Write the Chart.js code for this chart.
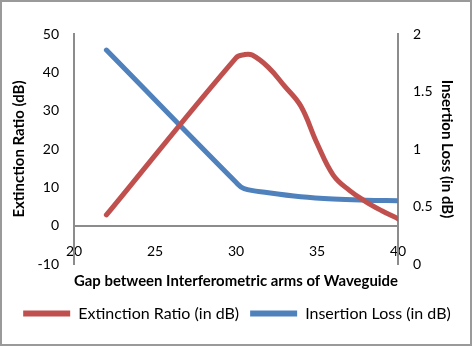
<!DOCTYPE html>
<html>
<head>
<meta charset="utf-8">
<script src="https://cdn.jsdelivr.net/npm/chart.js@4/dist/chart.umd.min.js"></script>
<style>
  html, body { margin: 0; padding: 0; background: #fff; }
  #wrap { position: relative; width: 474px; height: 348px; }
  #frame { position: absolute; left: 0; top: 0; width: 472px; height: 346px; box-sizing: border-box; border: 2px solid #9a9a9a; pointer-events: none; }
</style>
</head>
<body>
<div id="wrap">
  <canvas id="c" width="474" height="348"></canvas>
  <div id="frame"></div>
</div>
<script>
// Data
const gapER = [22, 30, 30.5, 31, 32, 33, 34, 35, 36, 37, 38, 39, 40];
const extinctionRatio = [2.8, 43.8, 44.6, 44.5, 41.3, 36.4, 31.2, 21.5, 13.2, 9.2, 6.3, 3.9, 1.8];
const gapIL = [22, 30, 30.5, 32, 34, 36, 38, 40];
const insertionLoss = [1.86, 0.71, 0.655, 0.62, 0.585, 0.565, 0.555, 0.55];
const xTicks = [20, 25, 30, 35, 40];
const leftTicks = [-10, 0, 10, 20, 30, 40, 50];
const rightTicks = [0, 0.5, 1, 1.5, 2];

const seriesNames = ['Extinction Ratio (in dB)', 'Insertion Loss (in dB)'];
const RED = '#C0504D', BLUE = '#4F81BD', AXIS = '#8c8c8c';
const FONT = 'Lato, "Open Sans", sans-serif';

const toPts = (xs, ys) => xs.map((x, i) => ({x: x, y: ys[i]}));

new Chart(document.getElementById('c'), {
  type: 'line',
  data: {
    datasets: [
      { label: seriesNames[0], data: toPts(gapER, extinctionRatio), yAxisID: 'y',
        borderColor: RED, backgroundColor: RED, borderWidth: 5, pointRadius: 0,
        tension: 0.4, borderCapStyle: 'round', borderJoinStyle: 'round' },
      { label: seriesNames[1], data: toPts(gapIL, insertionLoss), yAxisID: 'y1',
        borderColor: BLUE, backgroundColor: BLUE, borderWidth: 5, pointRadius: 0,
        tension: 0.4, borderCapStyle: 'round', borderJoinStyle: 'round' }
    ]
  },
  options: {
    responsive: false,
    animation: false,
    layout: { padding: { top: 34, left: 0, right: 0, bottom: 16.5 } },
    plugins: {
      tooltip: { enabled: false },
      legend: {
        position: 'bottom',
        title: { display: true, text: ' ', font: { size: 10, lineHeight: 3.05 }, padding: 0 },
        labels: {
          color: '#000',
          font: { family: FONT, size: 16 },
          boxWidth: 47, boxHeight: 6, padding: 11,
          generateLabels(chart) {
            const items = Chart.defaults.plugins.legend.labels.generateLabels(chart);
            items.forEach(it => { it.lineWidth = 0; it.fillStyle = it.strokeStyle; });
            return items;
          }
        }
      }
    },
    scales: {
      x: {
        type: 'linear',
        position: { y: 0 },
        min: 20, max: 40,
        afterBuildTicks(s) { s.ticks = xTicks.map(v => ({value: v})); },
        grid: { display: false, drawTicks: false },
        border: { display: true, color: AXIS, width: 2 },
        ticks: { color: '#000', font: { family: FONT, size: 14 }, padding: 17, maxRotation: 0 },
        title: { display: true, text: 'Gap between Interferometric arms of Waveguide', color: '#000',
                 font: { family: FONT, size: 15, weight: 'bold' }, padding: { top: -4, bottom: 0 } }
      },
      y: {
        type: 'linear', position: 'left',
        min: -10, max: 50,
        afterBuildTicks(s) { s.ticks = leftTicks.map(v => ({value: v})); },
        afterFit(s) { s.width = 74; },
        grid: { display: false, drawTicks: false },
        border: { display: true, color: AXIS, width: 2 },
        ticks: { color: '#000', font: { family: FONT, size: 14 }, padding: 15 },
        title: { display: true, text: 'Extinction Ratio (dB)', color: '#000',
                 font: { family: FONT, size: 15, weight: 'bold' }, padding: { top: 10, bottom: 0 } }
      },
      y1: {
        type: 'linear', position: 'right',
        min: 0, max: 2,
        afterBuildTicks(s) { s.ticks = rightTicks.map(v => ({value: v})); },
        afterFit(s) { s.width = 76; },
        grid: { display: false, drawTicks: false },
        border: { display: true, color: AXIS, width: 2 },
        ticks: { color: '#000', font: { family: FONT, size: 14 }, padding: 15,
                 callback: v => String(v) },
        title: { display: true, text: 'Insertion Loss (in dB)', color: '#000',
                 font: { family: FONT, size: 15, weight: 'bold' }, padding: { top: 18, bottom: 0 } }
      }
    }
  }
});
</script>
</body>
</html>
